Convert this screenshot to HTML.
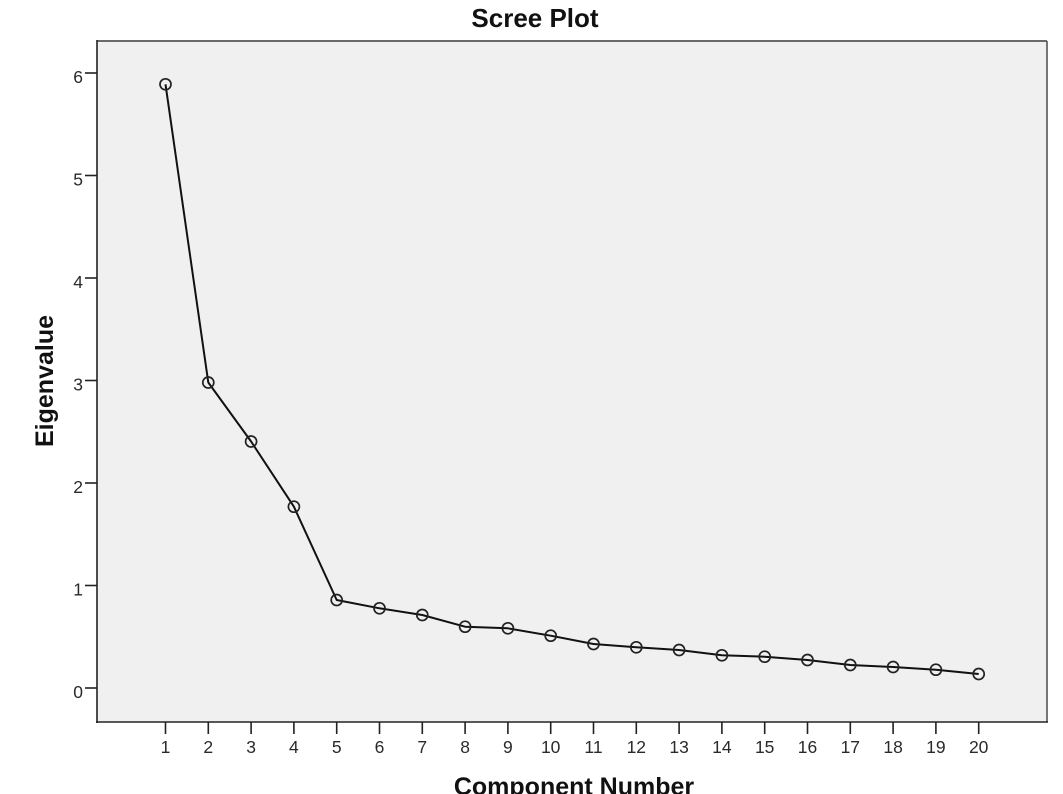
<!DOCTYPE html>
<html>
<head>
<meta charset="utf-8">
<style>
  html, body { margin:0; padding:0; background:#ffffff; }
  body { width:1063px; height:794px; overflow:hidden; }
  svg { display:block; }
  text { font-family: "Liberation Sans", Arial, sans-serif; }
</style>
</head>
<body>
<svg width="1063" height="794" viewBox="0 0 1063 794" xmlns="http://www.w3.org/2000/svg">
  <rect x="0" y="0" width="1063" height="794" fill="#ffffff"/>
  <!-- plot area -->
  <rect x="97" y="41" width="950" height="681" fill="#f0f0f0"/>
  <line x1="97" y1="41" x2="1047" y2="41" stroke="#6a6a6a" stroke-width="2"/>
  <line x1="1047" y1="41" x2="1047" y2="722" stroke="#555" stroke-width="1.6"/>
  <line x1="97" y1="40" x2="97" y2="723" stroke="#222" stroke-width="1.6"/>
  <line x1="96" y1="722" x2="1048" y2="722" stroke="#222" stroke-width="1.6"/>

  <!-- title -->
  <text x="535" y="27" font-size="26" font-weight="bold" text-anchor="middle" fill="#111">Scree Plot</text>

  <!-- y ticks -->
  <g stroke="#222" stroke-width="1.6">
    <line x1="85" y1="688" x2="97" y2="688"/>
    <line x1="85" y1="585.5" x2="97" y2="585.5"/>
    <line x1="85" y1="483" x2="97" y2="483"/>
    <line x1="85" y1="380.5" x2="97" y2="380.5"/>
    <line x1="85" y1="278" x2="97" y2="278"/>
    <line x1="85" y1="175.5" x2="97" y2="175.5"/>
    <line x1="85" y1="73" x2="97" y2="73"/>
  </g>
  <g font-size="17.5" fill="#2a2a2a" text-anchor="end">
    <text x="83" y="698">0</text>
    <text x="83" y="595.5">1</text>
    <text x="83" y="493">2</text>
    <text x="83" y="390.5">3</text>
    <text x="83" y="288">4</text>
    <text x="83" y="185.5">5</text>
    <text x="83" y="83">6</text>
  </g>

  <!-- x ticks -->
  <g stroke="#222" stroke-width="1.6">
    <line x1="165.5" y1="722" x2="165.5" y2="734"/>
    <line x1="208.3" y1="722" x2="208.3" y2="734"/>
    <line x1="251.1" y1="722" x2="251.1" y2="734"/>
    <line x1="293.9" y1="722" x2="293.9" y2="734"/>
    <line x1="336.7" y1="722" x2="336.7" y2="734"/>
    <line x1="379.5" y1="722" x2="379.5" y2="734"/>
    <line x1="422.3" y1="722" x2="422.3" y2="734"/>
    <line x1="465.1" y1="722" x2="465.1" y2="734"/>
    <line x1="507.9" y1="722" x2="507.9" y2="734"/>
    <line x1="550.7" y1="722" x2="550.7" y2="734"/>
    <line x1="593.5" y1="722" x2="593.5" y2="734"/>
    <line x1="636.3" y1="722" x2="636.3" y2="734"/>
    <line x1="679.1" y1="722" x2="679.1" y2="734"/>
    <line x1="721.9" y1="722" x2="721.9" y2="734"/>
    <line x1="764.7" y1="722" x2="764.7" y2="734"/>
    <line x1="807.5" y1="722" x2="807.5" y2="734"/>
    <line x1="850.3" y1="722" x2="850.3" y2="734"/>
    <line x1="893.1" y1="722" x2="893.1" y2="734"/>
    <line x1="935.9" y1="722" x2="935.9" y2="734"/>
    <line x1="978.7" y1="722" x2="978.7" y2="734"/>
  </g>
  <g font-size="17.5" fill="#2a2a2a" text-anchor="middle">
    <text x="165.5" y="753">1</text>
    <text x="208.3" y="753">2</text>
    <text x="251.1" y="753">3</text>
    <text x="293.9" y="753">4</text>
    <text x="336.7" y="753">5</text>
    <text x="379.5" y="753">6</text>
    <text x="422.3" y="753">7</text>
    <text x="465.1" y="753">8</text>
    <text x="507.9" y="753">9</text>
    <text x="550.7" y="753">10</text>
    <text x="593.5" y="753">11</text>
    <text x="636.3" y="753">12</text>
    <text x="679.1" y="753">13</text>
    <text x="721.9" y="753">14</text>
    <text x="764.7" y="753">15</text>
    <text x="807.5" y="753">16</text>
    <text x="850.3" y="753">17</text>
    <text x="893.1" y="753">18</text>
    <text x="935.9" y="753">19</text>
    <text x="978.7" y="753">20</text>
  </g>

  <!-- axis titles -->
  <text x="574" y="795" font-size="25" font-weight="bold" text-anchor="middle" fill="#111">Component Number</text>
  <text transform="translate(53,381) rotate(-90)" font-size="25" font-weight="bold" text-anchor="middle" fill="#111">Eigenvalue</text>

  <!-- series -->
  <polyline fill="none" stroke="#111" stroke-width="2" stroke-linejoin="round"
    points="165.5,84.3 208.3,382.5 251.1,441.5 293.9,506.7 336.7,600 379.5,608.3 422.3,615 465.1,626.7 507.9,628.3 550.7,635.7 593.5,644 636.3,647.3 679.1,650 721.9,655.3 764.7,656.7 807.5,660 850.3,665 893.1,667 935.9,669.7 978.7,674"/>
  <g fill="none" stroke="#222" stroke-width="1.7">
    <circle cx="165.5" cy="84.3" r="5.5"/>
    <circle cx="208.3" cy="382.5" r="5.5"/>
    <circle cx="251.1" cy="441.5" r="5.5"/>
    <circle cx="293.9" cy="506.7" r="5.5"/>
    <circle cx="336.7" cy="600" r="5.5"/>
    <circle cx="379.5" cy="608.3" r="5.5"/>
    <circle cx="422.3" cy="615" r="5.5"/>
    <circle cx="465.1" cy="626.7" r="5.5"/>
    <circle cx="507.9" cy="628.3" r="5.5"/>
    <circle cx="550.7" cy="635.7" r="5.5"/>
    <circle cx="593.5" cy="644" r="5.5"/>
    <circle cx="636.3" cy="647.3" r="5.5"/>
    <circle cx="679.1" cy="650" r="5.5"/>
    <circle cx="721.9" cy="655.3" r="5.5"/>
    <circle cx="764.7" cy="656.7" r="5.5"/>
    <circle cx="807.5" cy="660" r="5.5"/>
    <circle cx="850.3" cy="665" r="5.5"/>
    <circle cx="893.1" cy="667" r="5.5"/>
    <circle cx="935.9" cy="669.7" r="5.5"/>
    <circle cx="978.7" cy="674" r="5.5"/>
  </g>
</svg>
</body>
</html>
